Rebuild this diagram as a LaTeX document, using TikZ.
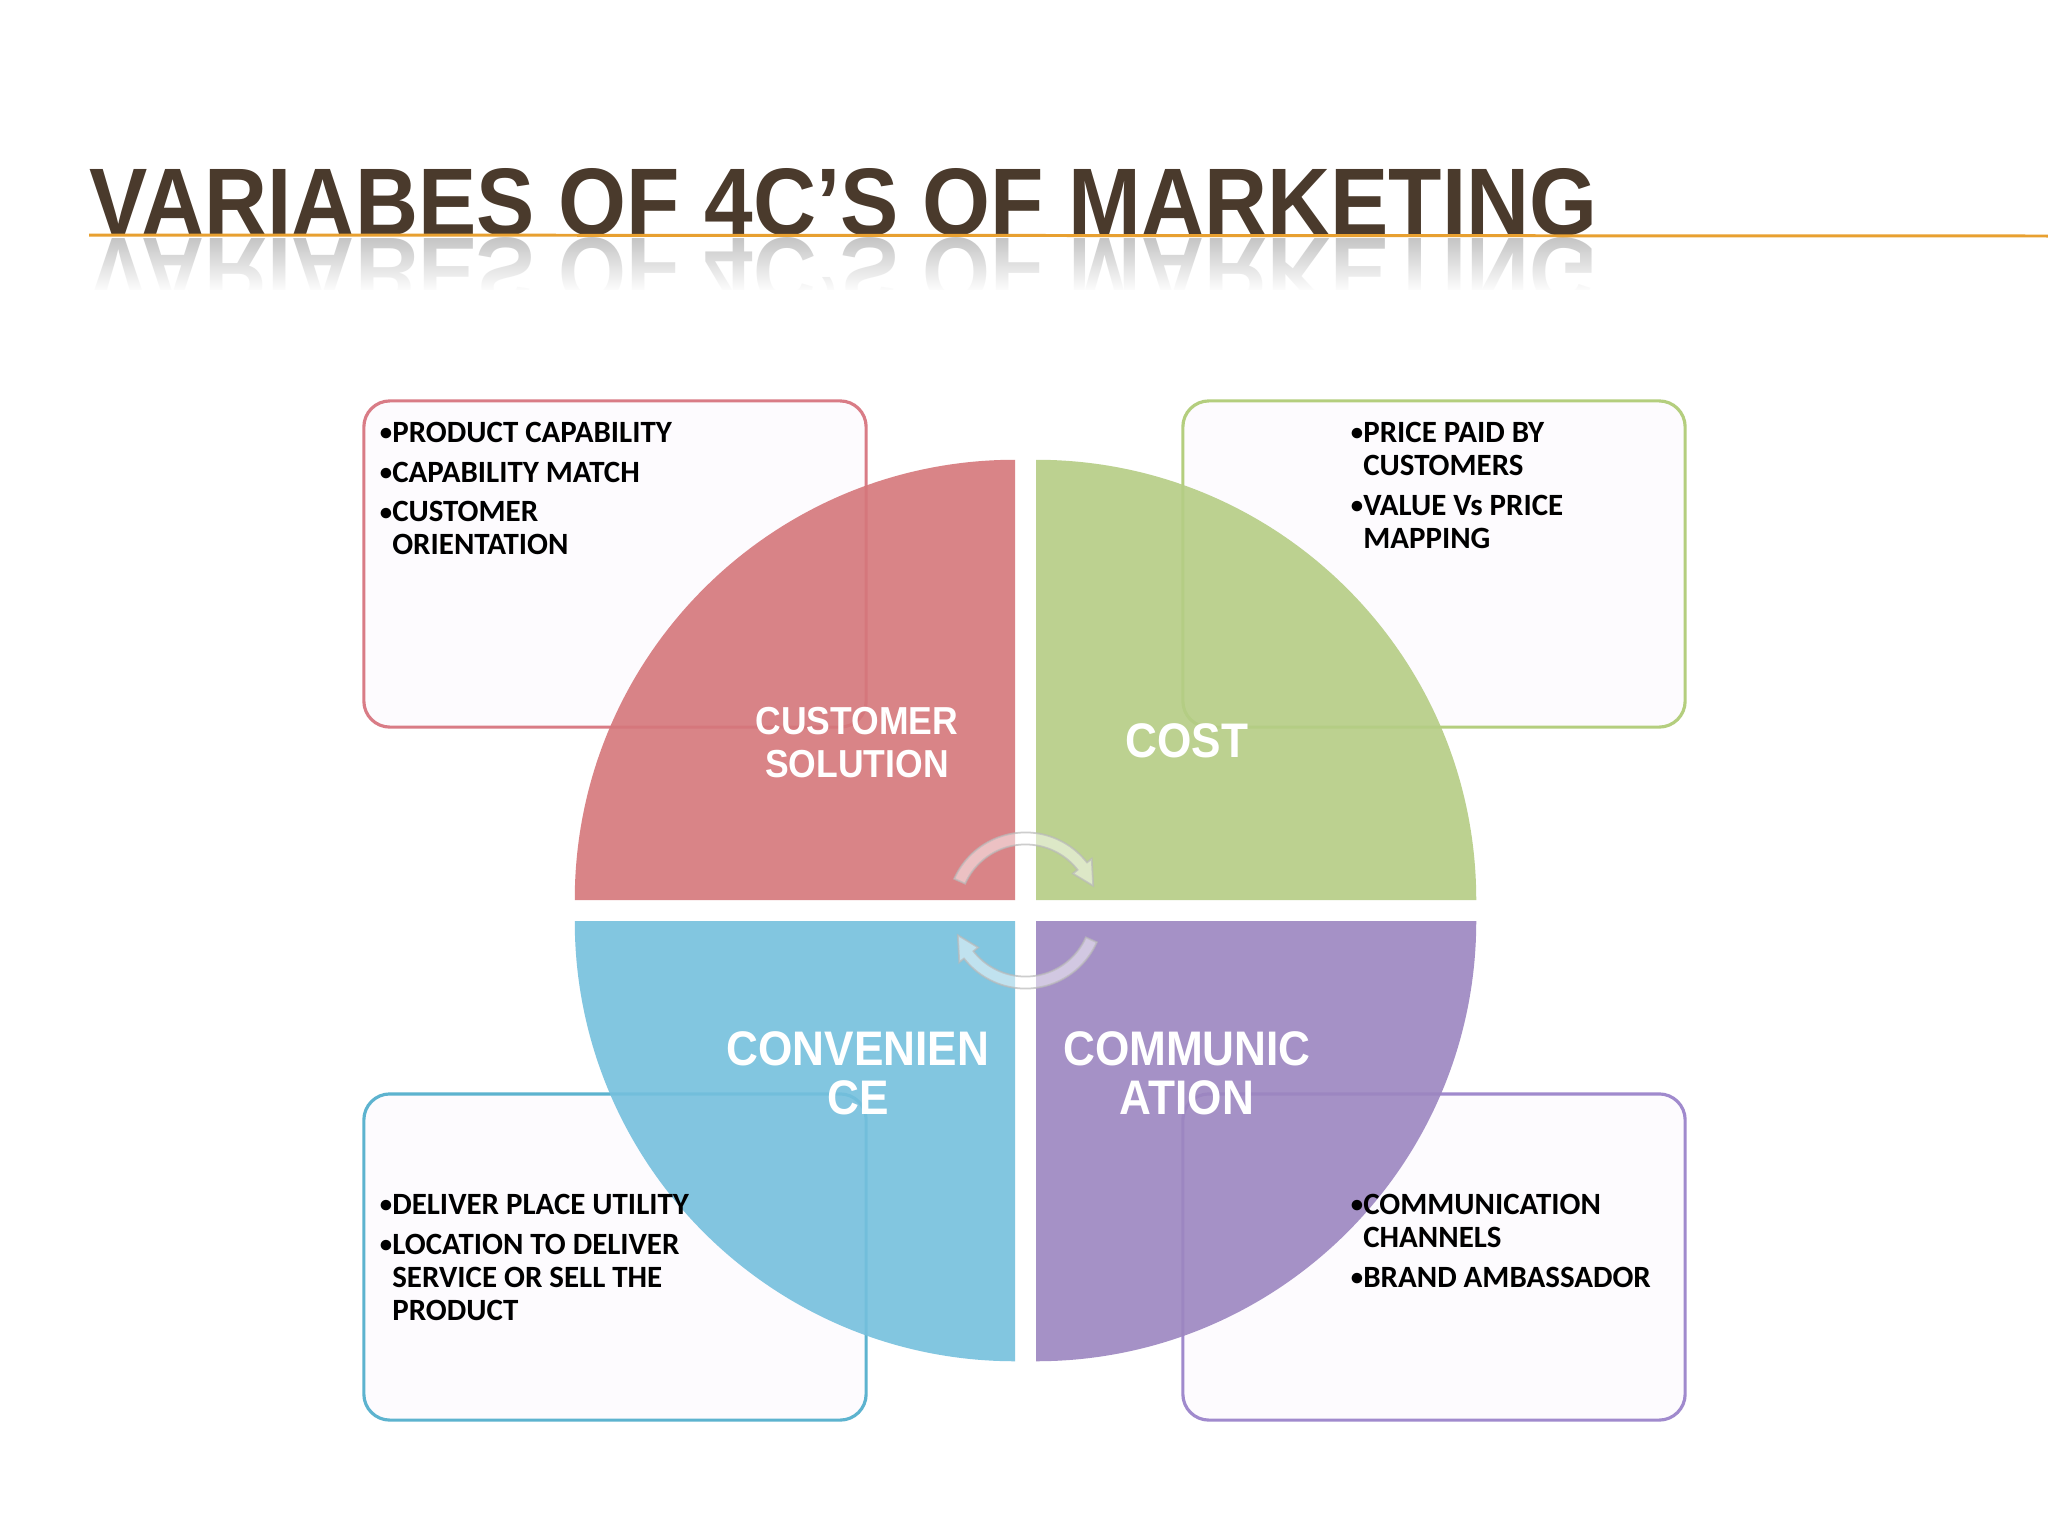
\documentclass[tikz,border=0pt]{standalone}
\usepackage{fontspec}
\usepackage{graphicx}
\usepackage{tikz}
\usetikzlibrary{positioning,calc,fadings}
\newfontfamily\ttlfont[FakeStretch=0.91]{Liberation Sans}
\newfontfamily\labfont[FakeStretch=0.91]{Liberation Sans}
\newfontfamily\boxfont{Carlito}
\definecolor{ttlbrown}{HTML}{4A3A2C}
\definecolor{rulorange}{HTML}{E8A030}
\definecolor{boxwhite}{HTML}{FDFBFE}
\definecolor{solred}{HTML}{D5777B}
\definecolor{costgreen}{HTML}{B5CD85}
\definecolor{convblue}{HTML}{75C0DD}
\definecolor{commpurple}{HTML}{9C86C0}
\definecolor{solline}{HTML}{D97C86}
\definecolor{costline}{HTML}{B4CE7E}
\definecolor{convline}{HTML}{5DB3CF}
\definecolor{commline}{HTML}{A08ACD}
\newcommand{\blt}{\raisebox{0.12ex}{\scalebox{0.8}{\textbullet}}}
\newcommand{\hng}{\phantom{\blt}}

\begin{document}
\begin{tikzpicture}[x=0.01cm,y=-0.01cm,
  ttl/.style={font=\ttlfont\bfseries\fontsize{27.3}{30}\selectfont, inner sep=0, anchor=base west},
  infobox/.style={draw=#1, line width=0.9pt, fill=boxwhite, rounded corners=0.26cm, minimum width=5.02cm, minimum height=3.26cm},
  bultext/.style={font=\boxfont\bfseries\fontsize{8.8}{9.4}\selectfont, align=left, inner sep=0, anchor=north west},
  quadrant/.style={fill=#1, fill opacity=0.9},
  qlabel/.style={font=\labfont\bfseries\fontsize{13.8}{13.9}\selectfont, text=white, align=center, inner sep=0},
  cyclearrow/.style={fill=white, fill opacity=0.5, draw=gray!55, draw opacity=0.7, line width=0.5pt}]
\useasboundingbox[fill=white] (0,0) rectangle (2048,1536);

\node[ttl, text=gray!45, yscale=-1, transform shape] (ttlrefl) at (89,238) {VARIABES OF 4C’S OF MARKETING};
\fill[white, path fading=north] (80,239) rectangle (1640,292);
\fill[white] (80,290) rectangle (1640,340);
\coordinate (lineend) at (2048,236);
\node[ttl, text=ttlbrown] (ttl) at (89,235) {VARIABES OF 4C’S OF MARKETING};
\draw[rulorange, line width=0.85pt] (ttl.base west) -- (lineend);

\node[infobox=solline] (solbox) at (615,564) {};
\node[infobox=costline] (costbox) at (1434,564) {};
\node[infobox=convline] (convbox) at (615,1257) {};
\node[infobox=commline] (commbox) at (1434,1257) {};

\coordinate (ctr) at (1025.5,910.5);
\foreach \dx/\dy/\sa/\ea/\col in {-10.5/-10.5/180/90/solred, 10.5/-10.5/0/90/costgreen,
                                  -10.5/10.5/180/270/convblue, 10.5/10.5/0/-90/commpurple}
  \fill[quadrant=\col] ([shift={(\dx,\dy)}]ctr) -- ++(\sa:4.4cm) arc[start angle=\sa, end angle=\ea, radius=4.4cm] -- cycle;

\foreach \rot in {0,180}
  \filldraw[cyclearrow, shift={(ctr)}, rotate=\rot] (156:0.78cm) arc[start angle=156, end angle=38, radius=0.78cm]
    -- (38:0.84cm) -- (20:0.72cm) -- (38:0.60cm) -- (38:0.66cm)
    arc[start angle=38, end angle=156, radius=0.66cm] -- cycle;

\node[qlabel, font=\labfont\bfseries\fontsize{11.1}{12.2}\selectfont] (sol) at (857,742.5) {CUSTOMER\\SOLUTION};
\node[qlabel] (cost) at (1187,741) {COST};
\node[qlabel] (conv) at (858,1073.5) {CONVENIEN\\CE};
\node[qlabel] (comm) at (1187,1073.5) {COMMUNIC\\ATION};

\node[bultext] (soltext) at ([shift={(17,22)}]solbox.north west)
  {\blt PRODUCT CAPABILITY\\[1.9pt] \blt CAPABILITY MATCH\\[1.9pt] \blt CUSTOMER\\ \hng ORIENTATION};
\node[bultext] (costtext) at ([shift={(169,22)}]costbox.north west)
  {\blt PRICE PAID BY\\ \hng CUSTOMERS\\[1.9pt] \blt VALUE Vs PRICE\\ \hng MAPPING};
\node[bultext] (convtext) at ([shift={(17,101)}]convbox.north west)
  {\blt DELIVER PLACE UTILITY\\[1.9pt] \blt LOCATION TO DELIVER\\ \hng SERVICE OR SELL THE\\ \hng PRODUCT};
\node[bultext] (commtext) at ([shift={(169,101)}]commbox.north west)
  {\blt COMMUNICATION\\ \hng CHANNELS\\[1.9pt] \blt BRAND AMBASSADOR};
\end{tikzpicture}
\end{document}
